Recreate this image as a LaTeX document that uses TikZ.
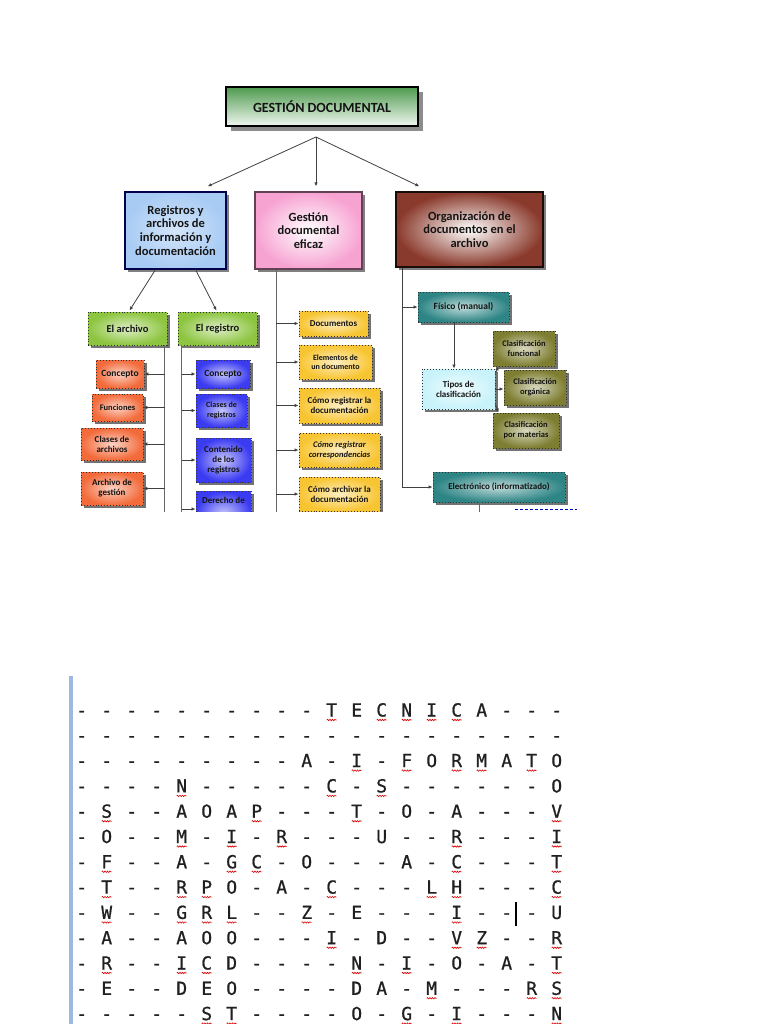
\documentclass[tikz,border=0pt]{standalone}
\usepackage{fontspec}
\setmainfont{Carlito}
\newfontfamily\gridfont[FakeBold=0.8]{DejaVu Sans Mono}
\usetikzlibrary{arrows.meta,calc,shadows,decorations.pathmorphing}
\definecolor{ink}{HTML}{141414}
\definecolor{gridink}{HTML}{202020}
\definecolor{titlegreen}{HTML}{4E9A4E}
\definecolor{regblue}{HTML}{A8CBF4}
\definecolor{efipink}{HTML}{F7A3D2}
\definecolor{orgbrown}{HTML}{8A3A2C}
\definecolor{leafgreen}{HTML}{8DC540}
\definecolor{leaforange}{HTML}{F36B3B}
\definecolor{leafblue}{HTML}{3B3BF2}
\definecolor{leafyellow}{HTML}{F8C532}
\definecolor{leafteal}{HTML}{2E8585}
\definecolor{leafcyan}{HTML}{C8F3FA}
\definecolor{leafolive}{HTML}{7E7E32}
\definecolor{barblue}{HTML}{9DB8E2}
% letters the spell checker leaves alone
\newcommand\plainletter[1]{\expandafter\def\csname plain#1\endcsname{}}
\plainletter{-}\plainletter{A}\plainletter{E}\plainletter{O}\plainletter{U}\plainletter{D}

\begin{document}
\begin{tikzpicture}[x=1pt,y=-1pt,
        box/.style = {align=center, text=ink, inner sep=1pt},
        headbox/.style = {box, draw=black, line width=2pt, top color=titlegreen, bottom color=white!92!titlegreen,
            minimum width=192pt, minimum height=39pt, font=\bfseries\fontsize{14}{16}\selectfont,
            drop shadow={shadow xshift=5pt,shadow yshift=-5pt,fill=black!45,opacity=1}},
        mainbox/.style = {box, line width=1.2pt, font=\bfseries\fontsize{12.5}{13.8}\selectfont,
            drop shadow={shadow xshift=3pt,shadow yshift=-3pt,fill=black!50,opacity=1}},
        leaf/.style = {box, draw=black!80, dotted, line width=0.9pt, outer color=#1, inner color=#1!30!white,
            font=\bfseries\fontsize{9}{10}\selectfont,
            drop shadow={shadow xshift=2.5pt,shadow yshift=-2.5pt,fill=black!55,opacity=1}},
        conn/.style = {draw=black!75, line width=0.8pt, -{Latex[length=4pt,width=3.5pt]}},
        trunk/.style = {draw=black!60, line width=1pt},
        cell/.style = {font=\gridfont\fontsize{18}{18}\selectfont, text=gridink, inner sep=0pt, anchor=base},
        wavy/.style = {draw=red!85!black, line width=0.6pt, decorate,
            decoration={snake,amplitude=0.7pt,segment length=2.5pt}}]
    \useasboundingbox (0,0) rectangle (768,1024);

    % Concept map, cut off at the bottom
    \begin{scope}
        \clip (0,0) rectangle (768,511);
        \node[headbox] (gd) at (322,106.5) {GESTIÓN DOCUMENTAL};
        \coordinate (split) at (316,137);

        % Second level
        \node[mainbox, draw=black!70!blue, inner color=regblue!50!white, outer color=regblue,
            minimum width=101pt, minimum height=77pt] (reg) at (175.5,230.5) {Registros y\\archivos de\\información y\\documentación};
        \node[mainbox, draw=black!60!efipink, inner color=white, outer color=efipink,
            minimum width=107pt, minimum height=77pt] (efi) at (308.5,230.5) {Gestión\\documental\\eficaz};
        \node[mainbox, draw=black!80!orgbrown, inner color=white, outer color=orgbrown,
            minimum width=147pt, minimum height=75pt] (org) at (469.5,229.5) {Organización de\\documentos en el\\archivo};

        % Archivo and registro
        \node[leaf=leafgreen, minimum width=79pt, minimum height=33pt, font=\bfseries\fontsize{10.5}{12}\selectfont] (archivo) at (127.5,328.5) {El archivo};
        \node[leaf=leafgreen, minimum width=79pt, minimum height=33pt, font=\bfseries\fontsize{10.5}{12}\selectfont] (registro) at (217.5,328.5) {El registro};

        \node[leaf=leaforange, minimum width=48pt, minimum height=28pt, font=\bfseries\fontsize{9.5}{11}\selectfont] (a1) at (120,374) {Concepto};
        \node[leaf=leaforange, minimum width=51pt, minimum height=27pt, font=\bfseries\fontsize{8.5}{10}\selectfont] (a2) at (117.5,407.5) {Funciones};
        \node[leaf=leaforange, minimum width=62pt, minimum height=32pt] (a3) at (112,444) {Clases de\\archivos};
        \node[leaf=leaforange, minimum width=62pt, minimum height=33pt] (a4) at (112,488.5) {Archivo de\\gestión};

        \node[leaf=leafblue, minimum width=54pt, minimum height=28pt, font=\bfseries\fontsize{9.5}{11}\selectfont] (r1) at (223,374) {Concepto};
        \node[leaf=leafblue, minimum width=51pt, minimum height=33pt, font=\bfseries\fontsize{8}{9.5}\selectfont] (r2) at (221.5,410.5) {Clases de\\registros};
        \node[leaf=leafblue, minimum width=55pt, minimum height=44pt] (r3) at (223.5,460) {Contenido\\de los\\registros};
        \node[leaf=leafblue, minimum width=55pt, minimum height=44pt, text height=9pt, text depth=28pt, anchor=north] (r4) at (223.5,491) {Derecho de};

        % Gestion documental eficaz
        \node[leaf=leafyellow, minimum width=69pt, minimum height=25pt, font=\bfseries\fontsize{9}{10}\selectfont] (e1) at (333.5,323.5) {Documentos};
        \node[leaf=leafyellow, minimum width=73pt, minimum height=34pt, font=\bfseries\fontsize{8}{9.5}\selectfont] (e2) at (335.5,362) {Elementos de\\un documento};
        \node[leaf=leafyellow, minimum width=81pt, minimum height=35pt] (e3) at (339.5,405.5) {Cómo registrar la\\documentación};
        \node[leaf=leafyellow, minimum width=81pt, minimum height=34pt, font=\bfseries\itshape\fontsize{8.5}{10}\selectfont] (e4) at (339.5,450) {Cómo registrar\\correspondencias};
        \node[leaf=leafyellow, minimum width=81pt, minimum height=34pt] (e5) at (339.5,494) {Cómo archivar la\\documentación};

        % Organizacion
        \node[leaf=leafteal, minimum width=91pt, minimum height=30pt, font=\bfseries\fontsize{9.5}{11}\selectfont] (fis) at (463.5,307) {Físico (manual)};
        \node[leaf=leafcyan, minimum width=73pt, minimum height=40pt] (tipos) at (458.5,389) {Tipos de\\clasificación};
        \node[leaf=leafolive, minimum width=62pt, minimum height=35pt, font=\bfseries\fontsize{8.5}{10}\selectfont] (c1) at (524,348.5) {Clasificación\\funcional};
        \node[leaf=leafolive, minimum width=62pt, minimum height=35pt, font=\bfseries\fontsize{8.5}{10}\selectfont] (c2) at (535,387.5) {Clasificación\\orgánica};
        \node[leaf=leafolive, minimum width=66pt, minimum height=35pt, font=\bfseries\fontsize{8.5}{10}\selectfont] (c3) at (526,430.5) {Clasificación\\por materias};
        \node[leaf=leafteal, minimum width=132pt, minimum height=30pt, font=\bfseries\fontsize{9}{11}\selectfont] (ele) at (499,487) {Electrónico (informatizado)};

        % Connectors
        \draw[conn] (split) -- ($(reg.north east)+(-19,-5)$);
        \draw[conn] (split) -- ($(split |- efi.north)+(0,-5)$);
        \draw[conn] (split) -- ($(org.north west)+(24,-5)$);
        \draw[conn] ($(reg.south)+(-20,0)$) -- ($(archivo.north)+(2,-1)$);
        \draw[conn] ($(reg.south)+(20,0)$) -- ($(registro.north)+(-1,-1)$);

        \coordinate (aend) at (164.5,520);
        \draw[trunk] (archivo.south -| aend) -- (aend);
        \foreach \n in {a1,a2,a3,a4}
            \draw[conn] (\n.east -| aend) -- (\n.east);

        \coordinate (rend) at (181.5,520);
        \coordinate (r4in) at ($(r4.north west)+(0,18)$);
        \draw[trunk] (registro.south -| rend) -- (rend);
        \foreach \n in {r1,r2,r3}
            \draw[conn] (\n.west -| rend) -- (\n.west);
        \draw[conn] (rend |- r4in) -- (r4in);

        \coordinate (eend) at (276,520);
        \draw[trunk] (efi.south -| eend) -- (eend);
        \foreach \n in {e1,e2,e3,e4,e5}
            \draw[conn] (\n.west -| eend) -- (\n.west);

        \coordinate (ostem) at (402.5,0);
        \draw[conn] (org.south -| ostem) |- (ele.west);
        \draw[conn] (fis.west -| ostem) -- (fis.west);
        \draw[conn] ([xshift=-9.5pt]fis.south) -- ([xshift=-9.5pt]fis.south |- tipos.north);
        \draw[conn] ($(tipos.north east)+(0,5)$) -- ($(c1.south west)+(6,0)$);
        \draw[conn] (tipos.east) -- (tipos.east -| c2.west);
        \draw[conn] ($(tipos.south east)+(0,-5)$) -- ($(c3.north west)+(6,0)$);
        \coordinate (elend) at (479,520);
        \draw[trunk] (ele.south -| elend) -- (elend);
        \draw[blue!80!black, densely dashed, line width=1pt] (515,509.5) -- (577,509.5);
    \end{scope}

    % Word search
    \fill[barblue] (69,676) rectangle (72.5,1024);
    \foreach \row [count=\j] in {
        {-,-,-,-,-,-,-,-,-,-,T,E,C,N,I,C,A,-,-,-},
        {-,-,-,-,-,-,-,-,-,-,-,-,-,-,-,-,-,-,-,-},
        {-,-,-,-,-,-,-,-,-,A,-,I,-,F,O,R,M,A,T,O},
        {-,-,-,-,N,-,-,-,-,-,C,-,S,-,-,-,-,-,-,O},
        {-,S,-,-,A,O,A,P,-,-,-,T,-,O,-,A,-,-,-,V},
        {-,O,-,-,M,-,I,-,R,-,-,-,U,-,-,R,-,-,-,I},
        {-,F,-,-,A,-,G,C,-,O,-,-,-,A,-,C,-,-,-,T},
        {-,T,-,-,R,P,O,-,A,-,C,-,-,-,L,H,-,-,-,C},
        {-,W,-,-,G,R,L,-,-,Z,-,E,-,-,-,I,-,-,-,U},
        {-,A,-,-,A,O,O,-,-,-,I,-,D,-,-,V,Z,-,-,R},
        {-,R,-,-,I,C,D,-,-,-,-,N,-,I,-,O,-,A,-,T},
        {-,E,-,-,D,E,O,-,-,-,-,D,A,-,M,-,-,-,R,S},
        {-,-,-,-,-,S,T,-,-,-,-,O,-,G,-,I,-,-,-,N}}{
        \foreach \ch [count=\i] in \row {
            \node[cell] (c\i-\j) at ({56.7+25*\i},{691.2+25.3*\j}) {\ch};
            \ifcsname plain\ch\endcsname\else
                \draw[wavy] ($(c\i-\j.base)+(-5,3.5)$) -- ++(10,0);
            \fi
        }
    }
    % text cursor
    \draw[line width=1.4pt] (516,902) -- (516,926);
\end{tikzpicture}
\end{document}
